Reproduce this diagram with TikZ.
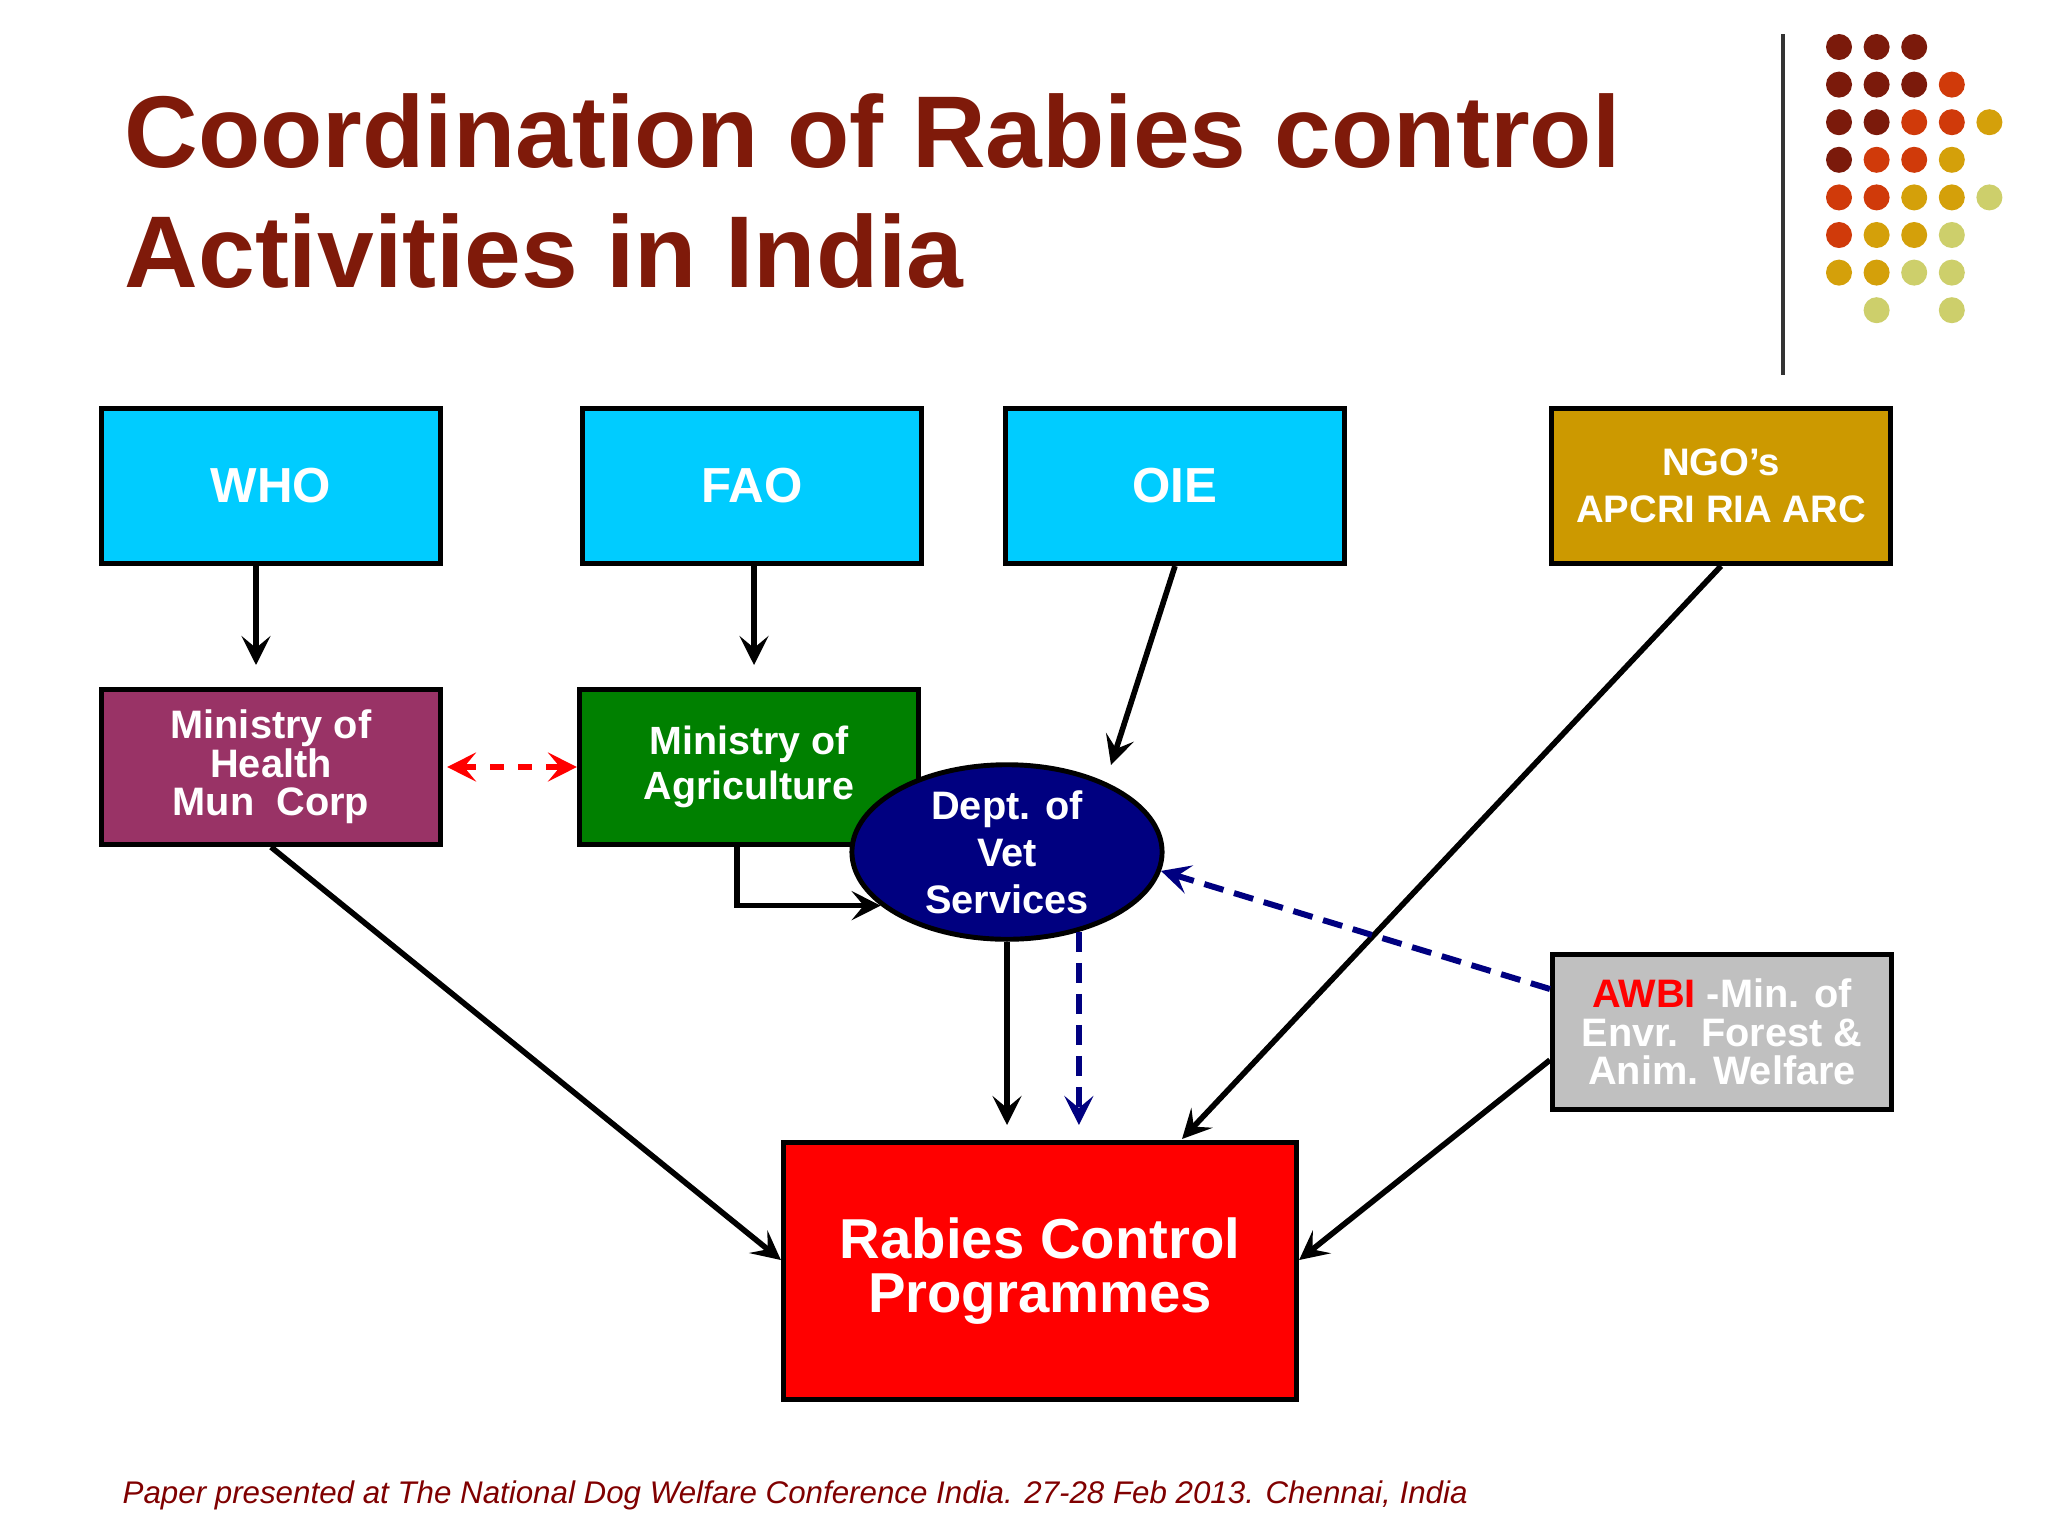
\documentclass[tikz,border=0pt]{standalone}
\usepackage{fontspec}
\setmainfont{Liberation Sans}
\usetikzlibrary{shapes.geometric,arrows.meta,calc}
\definecolor{titlered}{HTML}{7F1A0A}
\definecolor{notered}{HTML}{800000}
\definecolor{whocyan}{HTML}{00CCFF}
\definecolor{mohpink}{HTML}{993366}
\definecolor{moagreen}{HTML}{008000}
\definecolor{vetnavy}{HTML}{000080}
\definecolor{ngogold}{HTML}{CC9900}
\definecolor{awbigrey}{HTML}{C0C0C0}
\definecolor{rcpred}{HTML}{FF0000}
\definecolor{dotM}{HTML}{7B1A0B}
\definecolor{dotO}{HTML}{D03A0A}
\definecolor{dotG}{HTML}{D4A00A}
\definecolor{dotP}{HTML}{CDCF6B}

\begin{document}
\begin{tikzpicture}[x=0.01cm,y=-0.01cm,
	box/.style={draw=black, line width=1.4pt, minimum width=3.39cm, minimum height=1.55cm, inner sep=0pt, align=center, text=white},
	arr/.style={-{Stealth[length=2.9mm,width=2.9mm,inset=1.2mm]}, line width=1.6pt},
	reddash/.style={{Stealth[length=2.9mm,width=2.9mm,inset=1.2mm]}-{Stealth[length=2.9mm,width=2.9mm,inset=1.2mm]}, red, line width=1.7pt, dash pattern=on 1.4mm off 1.4mm},
	bluedash/.style={arr, vetnavy, line width=1.7pt, dash pattern=on 2mm off 1.1mm}]
			 \fill[white] (0,0) rectangle (2048,1536);
			 \useasboundingbox (0,0) rectangle (2048,1536);
			 \node[anchor=base west, inner sep=0pt, text=titlered, font=\fontsize{29}{34}\selectfont\bfseries] (title1) at (124,167) {Coordination of Rabies control};
			 \node[anchor=base west, inner sep=0pt, text=titlered, font=\fontsize{29}{34}\selectfont\bfseries] (title2) at (124,287) {Activities in India};
			 \draw[line width=1pt, black!80] (1783,34)--(1783,375);
			 \foreach \r/\c/\col in {1/1/dotM,1/2/dotM,1/3/dotM,
			 	2/1/dotM,2/2/dotM,2/3/dotM,2/4/dotO,
			 	3/1/dotM,3/2/dotM,3/3/dotO,3/4/dotO,3/5/dotG,
			 	4/1/dotM,4/2/dotO,4/3/dotO,4/4/dotG,
			 	5/1/dotO,5/2/dotO,5/3/dotG,5/4/dotG,5/5/dotP,
			 	6/1/dotO,6/2/dotG,6/3/dotG,6/4/dotP,
			 	7/1/dotG,7/2/dotG,7/3/dotP,7/4/dotP,
			 	8/2/dotP,8/4/dotP}
			 	\fill[\col] ({1839+37.6*(\c-1)},{47+37.6*(\r-1)}) circle (0.13cm);
			 \node[box, fill=whocyan, font=\fontsize{14}{16}\selectfont\bfseries] (who) at (271,486) {WHO};
			 \node[box, fill=whocyan, font=\fontsize{14}{16}\selectfont\bfseries] (fao) at (752,486) {FAO};
			 \node[box, fill=whocyan, font=\fontsize{14}{16}\selectfont\bfseries] (oie) at (1175,486) {OIE};
			 \node[box, fill=ngogold, font=\fontsize{10.9}{13.4}\selectfont\bfseries] (ngo) at (1721,486) {NGO’s\\APCRI RIA ARC};
			 \node[box, fill=mohpink, font=\fontsize{11.3}{11}\selectfont\bfseries] (moh) at (271,767) {Ministry of\\Health\\Mun\ \ Corp};
			 \node[box, fill=moagreen, font=\fontsize{11.2}{13}\selectfont\bfseries] (moa) at (749,767) {Ministry of\\Agriculture};
			 \node[ellipse, draw=black, line width=1.4pt, fill=vetnavy, minimum width=3.1cm, minimum height=1.7cm, inner sep=0pt, align=center, text=white, font=\fontsize{11.3}{13.4}\selectfont\bfseries] (dvs) at (1007,852) {Dept. of\\Vet\\Services};
			 \node[box, fill=awbigrey, font=\fontsize{11.3}{11}\selectfont\bfseries] (awbi) at (1722,1032) {\textcolor{red}{AWBI} -Min. of\\Envr.\ \ Forest \&\\Anim. Welfare};
			 \node[box, fill=rcpred, minimum width=5.13cm, minimum height=2.57cm, font=\fontsize{16}{15.6}\selectfont\bfseries] (rcp) at (1040,1271) {Rabies Control\\Programmes};
			 \coordinate (whoend) at (256,665);
			 \coordinate (faoend) at (754,665);
			 \coordinate (oieend) at (1111,765);
			 \coordinate (ngoend) at (1182,1139);
			 \coordinate (vetend) at (1007,1125);
			 \draw[arr] (who.south -| whoend)--(whoend);
			 \draw[arr] (fao.south -| faoend)--(faoend);
			 \draw[arr] (oie.south)--(oieend);
			 \draw[arr] (ngo.south)--(ngoend);
			 \draw[arr] (moh.south)--($(rcp.west)+(0,-11)$);
			 \draw[arr] ($(awbi.west)+(0,28)$)--($(rcp.east)+(0,-11)$);
			 \draw[arr] ($(moa.south)+(-12,0)$) |- (dvs.203);
			 \draw[arr] (dvs.south)--(vetend);
			 \draw[bluedash] (dvs.-48)--(dvs.-48 |- vetend);
			 \draw[bluedash] ($(awbi.west)+(0,-43)$)--(dvs.-7);
			 \draw[reddash] ($(moh.east)+(4,0)$)--(moa.west);
			 \node[anchor=base west, inner sep=0pt, text=notered, font=\fontsize{8.9}{10}\selectfont\itshape] (note) at (122,1503) {Paper presented at The National Dog Welfare Conference India. 27-28 Feb 2013. Chennai, India};
\end{tikzpicture}
\end{document}
